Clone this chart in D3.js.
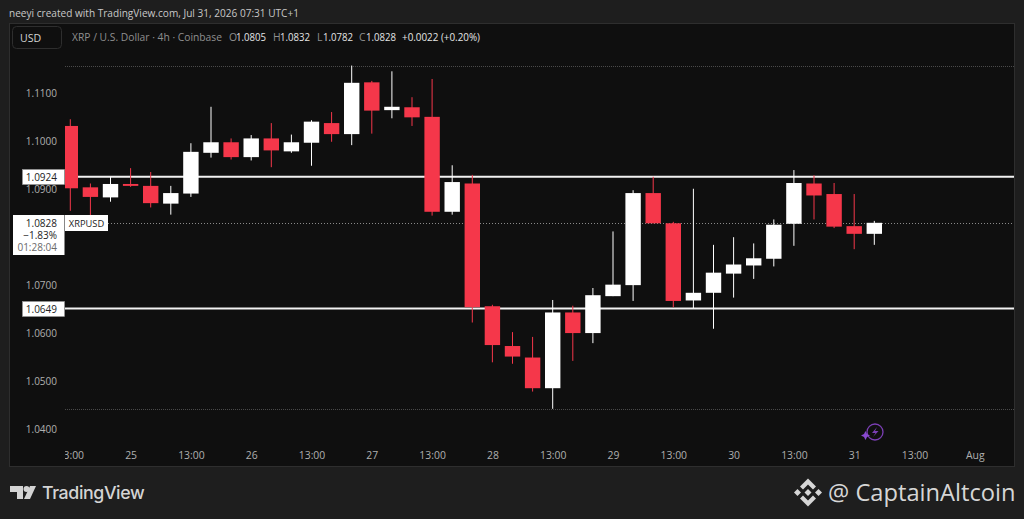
<!DOCTYPE html>
<html>
<head>
<meta charset="utf-8">
<script src="https://cdn.jsdelivr.net/npm/d3@7"></script>
<style>
  html, body { margin: 0; padding: 0; background: #1e1e1e; overflow: hidden; }
  svg { display: block; }
  text { font-family: "Open Sans", "Noto Sans", sans-serif; }
</style>
</head>
<body>
<div id="chart"></div>
<script>
const opens = [1.1030,1.0902,1.0881,1.0909,1.0905,1.0868,1.0889,1.0974,1.0996,1.0965,1.1004,1.0977,1.0995,1.1036,1.1013,1.1121,1.1063,1.1069,1.1049,1.0851,1.0910,1.0654,1.0571,1.0547,1.0483,1.0641,1.0598,1.0675,1.0698,1.0890,1.0827,1.0666,1.0682,1.0722,1.0739,1.0753,1.0826,1.0910,1.0888,1.0821,1.0805];
const highs = [1.1044,1.0910,1.0924,1.0942,1.0934,1.0905,1.0994,1.1070,1.1004,1.1011,1.1036,1.1012,1.1042,1.1059,1.1156,1.1124,1.1144,1.1090,1.1128,1.0948,1.0928,1.0657,1.0600,1.0590,1.0667,1.0655,1.0692,1.0810,1.0896,1.0924,1.0830,1.0899,1.0782,1.0798,1.0785,1.0835,1.0938,1.0927,1.0911,1.0888,1.0832];
const lows = [1.0853,1.0842,1.0872,1.0903,1.0860,1.0845,1.0882,1.0964,1.0960,1.0958,1.0944,1.0974,1.0947,1.0997,1.0990,1.1014,1.1046,1.1030,1.0843,1.0845,1.0620,1.0537,1.0534,1.0476,1.0440,1.0540,1.0577,1.0675,1.0665,1.0827,1.0652,1.0650,1.0607,1.0672,1.0711,1.0737,1.0780,1.0835,1.0817,1.0773,1.0782];
const closes = [1.0900,1.0882,1.0909,1.0905,1.0869,1.0890,1.0976,1.0996,1.0965,1.1004,1.0979,1.0996,1.1039,1.1013,1.1120,1.1062,1.1070,1.1048,1.0851,1.0913,1.0652,1.0573,1.0549,1.0483,1.0641,1.0598,1.0677,1.0699,1.0890,1.0827,1.0665,1.0682,1.0724,1.0741,1.0754,1.0824,1.0911,1.0885,1.0820,1.0805,1.0828];

const priceTicks = [1.04, 1.05, 1.06, 1.07, 1.09, 1.10, 1.11];
const levels = [1.0924, 1.0649];
const rangeLines = [1.1156, 1.0440];
const timeTickIndex = [0, 3, 6, 9, 12, 15, 18, 21, 24, 27, 30, 33, 36, 39, 42, 45];
const timeTickLabels = ["13:00","25","13:00","26","13:00","27","13:00","28","13:00","29","13:00","30","13:00","31","13:00","Aug"];
const lastPrice = 1.0828;
const lastPct = "\u22121.83%";
const countdown = "01:28:04";

const width = 1024, height = 519;
const panel = { left: 9, top: 23, right: 1015, bottom: 467 };
const plotLeft = 65;
const RED = "#f5374a", WHITE = "#ffffff";

const x = d3.scaleLinear().domain([0, 45]).range([70.3, 974.8]);
const y = d3.scaleLinear().domain([1.04, 1.11]).range([428, 92.4]);
const bodyW = 15.4;

const svg = d3.select("#chart").append("svg").attr("width", width).attr("height", height);

svg.append("defs").append("clipPath").attr("id", "plot")
  .append("rect").attr("x", plotLeft).attr("y", panel.top)
  .attr("width", panel.right - plotLeft).attr("height", panel.bottom - panel.top);

svg.append("rect").attr("x", panel.left + 0.5).attr("y", panel.top + 0.5)
  .attr("width", panel.right - panel.left - 1).attr("height", panel.bottom - panel.top - 1)
  .attr("fill", "#0f0f0f").attr("stroke", "#2e2e2e");

// header
svg.append("text").attr("x", 9).attr("y", 17).attr("fill", "#c8c8c8")
  .attr("font-size", 10.4).attr("font-weight", 500)
  .attr("textLength", 290).attr("lengthAdjust", "spacingAndGlyphs")
  .text("neeyi created with TradingView.com, Jul 31, 2026 07:31 UTC+1");

svg.append("rect").attr("x", 12.5).attr("y", 26.5).attr("width", 49).attr("height", 22)
  .attr("rx", 4).attr("fill", "#0f0f0f").attr("stroke", "#2e2e2e");
svg.append("text").attr("x", 20).attr("y", 41.5).attr("fill", "#d4d4d4")
  .attr("font-size", 10.6).attr("font-weight", 500).text("USD");

// legend row, one piece per label so they sit where the reference has them
const dim = "#8f8f8f", bright = "#e4e4e4";
const lastO = opens[opens.length - 1], lastH = highs[highs.length - 1];
const lastL = lows[lows.length - 1], lastC = closes[closes.length - 1];
const legendG = svg.append("g").attr("font-size", 10.4);
[["XRP / U.S. Dollar \u00b7 4h \u00b7 Coinbase", dim, 72, 150],
 ["O", dim, 229, 0], [lastO.toFixed(4), bright, 236, 30],
 ["H", dim, 273, 0], [lastH.toFixed(4), bright, 280, 30],
 ["L", dim, 317, 0], [lastL.toFixed(4), bright, 323, 30],
 ["C", dim, 359, 0], [lastC.toFixed(4), bright, 366, 30],
 ["+0.0022 (+0.20%)", bright, 402, 78]].forEach(([t, c, tx, len]) => {
  const el = legendG.append("text").attr("x", tx).attr("y", 40.5).attr("fill", c)
    .attr("font-weight", c === bright ? 500 : 400).text(t);
  if (len) el.attr("textLength", len).attr("lengthAdjust", "spacingAndGlyphs");
});

// dotted lines
svg.append("g").selectAll("line").data(rangeLines).join("line")
  .attr("x1", plotLeft).attr("x2", panel.right - 1)
  .attr("y1", d => Math.round(y(d)) + 0.5).attr("y2", d => Math.round(y(d)) + 0.5)
  .attr("stroke", "#4a4a4a").attr("stroke-dasharray", "1 1");

svg.append("line").attr("x1", 108).attr("x2", panel.right - 1)
  .attr("y1", Math.round(y(lastPrice)) + 0.5).attr("y2", Math.round(y(lastPrice)) + 0.5)
  .attr("stroke", "#8a8a8a").attr("stroke-dasharray", "1 2");

// horizontal levels
svg.append("g").selectAll("line").data(levels).join("line")
  .attr("x1", plotLeft).attr("x2", panel.right - 1)
  .attr("y1", d => y(d)).attr("y2", d => y(d))
  .attr("stroke", "#f2f2f2").attr("stroke-width", 2);

// candles
const candles = d3.range(opens.length).map(i => ({
  i, o: opens[i], h: highs[i], l: lows[i], c: closes[i], up: closes[i] >= opens[i]
}));
const candleG = svg.append("g").attr("clip-path", "url(#plot)")
  .selectAll("g").data(candles).join("g");
candleG.append("line")
  .attr("x1", d => x(d.i)).attr("x2", d => x(d.i))
  .attr("y1", d => y(d.h)).attr("y2", d => y(d.l))
  .attr("stroke", d => d.up ? WHITE : RED).attr("stroke-width", 1);
candleG.append("rect")
  .attr("x", d => x(d.i) - bodyW / 2).attr("width", bodyW)
  .attr("y", d => y(Math.max(d.o, d.c)))
  .attr("height", d => Math.max(1, Math.abs(y(d.o) - y(d.c))))
  .attr("fill", d => d.up ? WHITE : RED);

// axes
const yAxis = svg.append("g").attr("transform", "translate(64,0.8)")
  .call(d3.axisLeft(y).tickValues(priceTicks).tickFormat(d3.format(".4f")).tickSize(0).tickPadding(7));
yAxis.select(".domain").remove();
yAxis.selectAll("text").attr("fill", "#b0b0b0").attr("font-size", 10)
  .style("font-family", '"Open Sans", sans-serif').attr("font-weight", 400);

const xAxis = svg.append("g").attr("clip-path", "url(#plot)").append("g")
  .attr("transform", "translate(0,448.5)")
  .call(d3.axisBottom(x).tickValues(timeTickIndex)
    .tickFormat((d, i) => timeTickLabels[i]).tickSize(0).tickPadding(3));
xAxis.select(".domain").remove();
xAxis.selectAll("text").attr("fill", "#b0b0b0").attr("font-size", 10.4)
  .style("font-family", '"Open Sans", sans-serif');

// price labels on the axis
levels.forEach(v => {
  const cy = y(v);
  svg.append("rect").attr("x", 22.5).attr("y", Math.round(cy) - 7.5)
    .attr("width", 42).attr("height", 15).attr("fill", "#fff").attr("stroke", "#9a9a9a").attr("stroke-width", 0.6);
  svg.append("text").attr("x", 57).attr("y", cy + 4).attr("text-anchor", "end")
    .attr("fill", "#222").attr("font-size", 10).text(v.toFixed(4));
});

svg.append("rect").attr("x", 13).attr("y", 215).attr("width", 51.5).attr("height", 40).attr("fill", "#fff");
[[lastPrice.toFixed(4), "#222", 227], [lastPct, "#222", 239], [countdown, "#6a6a6a", 251]].forEach(([t, c, ty]) => {
  svg.append("text").attr("x", 57).attr("y", ty).attr("text-anchor", "end")
    .attr("fill", c).attr("font-size", 10).text(t);
});
svg.append("rect").attr("x", 65).attr("y", 215).attr("width", 43).attr("height", 16).attr("fill", "#fff");
svg.append("text").attr("x", 86.5).attr("y", 226.5).attr("text-anchor", "middle")
  .attr("fill", "#222").attr("font-size", 9.3).text("XRPUSD");

// purple spark marker
const spark = svg.append("g").attr("fill", "none").attr("stroke", "#7b3fb5");
spark.append("circle").attr("cx", 875).attr("cy", 432).attr("r", 8).attr("stroke-width", 1.3);
spark.append("path").attr("d", "M877 427 L872 433 L875.5 433 L873 437 L878.5 431 L875 431 Z")
  .attr("fill", "#7b3fb5").attr("stroke", "none");
spark.append("path").attr("d", "M865.5 431 L867 434 L870 435.5 L867 437 L865.5 440 L864 437 L861 435.5 L864 434 Z")
  .attr("fill", "#8a4ad0").attr("stroke", "none");

// TradingView logo
const logo = svg.append("g").attr("fill", "#d4d4d4");
logo.append("path").attr("d", "M10 486 H23 V499 H17 V492 H10 Z");
logo.append("circle").attr("cx", 26.5).attr("cy", 489).attr("r", 3);
logo.append("path").attr("d", "M30 486 H36 L30 499 H24 Z");
logo.append("text").attr("x", 42).attr("y", 499).attr("font-size", 17.8).attr("font-weight", 500)
  .style("font-family", '"Inter", sans-serif').attr("letter-spacing", -0.4).text("TradingView");

// CaptainAltcoin watermark, binance style mark
const mark = svg.append("g").attr("transform", "translate(808,492.5)").attr("fill", "#d6d6d6");
mark.append("path").attr("d", "M0 -14 L8 -6 L5 -3 L0 -8 L-5 -3 L-8 -6 Z");
mark.append("path").attr("d", "M0 14 L8 6 L5 3 L0 8 L-5 3 L-8 6 Z");
mark.append("path").attr("d", "M-14 0 L-10.5 -3.5 L-7 0 L-10.5 3.5 Z");
mark.append("path").attr("d", "M14 0 L10.5 -3.5 L7 0 L10.5 3.5 Z");
mark.append("path").attr("d", "M0 -3.5 L3.5 0 L0 3.5 L-3.5 0 Z");
svg.append("text").attr("x", 828).attr("y", 500.5).attr("font-size", 23.7)
  .attr("fill", "#d6d6d6").text("@ CaptainAltcoin");
</script>
</body>
</html>
